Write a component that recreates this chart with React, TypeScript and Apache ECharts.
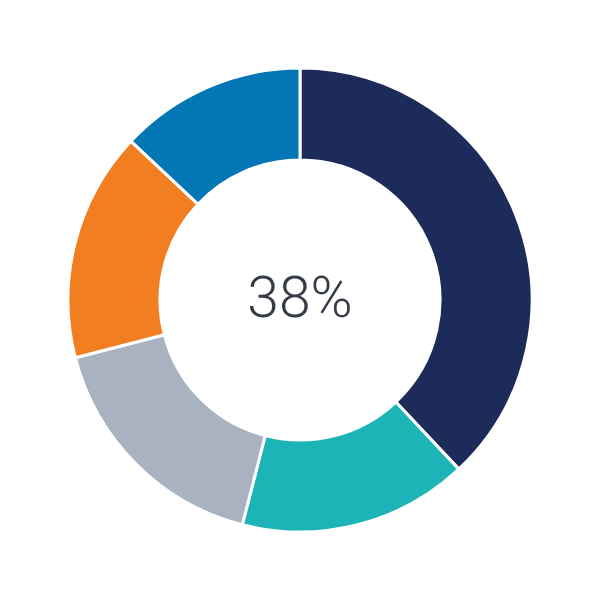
import React, { useEffect, useRef } from 'react';
import * as echarts from 'echarts';

// Slice shares, clockwise from 12 o'clock
const segmentNames = ['A', 'B', 'C', 'D', 'E'];
const segmentValues = [38, 16, 17, 16, 13];
const segmentColors = ['#1c2b5a', '#1cb4b6', '#a9b2c0', '#f17f22', '#0377b4'];
const centerLabel = '38%';

const App: React.FC = () => {
  const chartRef = useRef<HTMLDivElement>(null);

  useEffect(() => {
    if (!chartRef.current) return;
    const chart = echarts.init(chartRef.current, undefined, { renderer: 'svg' });

    const option = {
      animation: false,
      backgroundColor: '#fff',
      graphic: [
        {
          type: 'text',
          x: 292,
          y: 289,
          style: {
            text: centerLabel,
            fontSize: 57,
            fontFamily: 'Roboto',
            fontWeight: 300,
            fill: '#363c45',
            textAlign: 'center',
            textVerticalAlign: 'middle'
          }
        }
      ],
      series: [
        {
          type: 'pie',
          center: [292, 292],
          radius: [140, 232],
          startAngle: 90,
          clockwise: true,
          label: { show: false },
          labelLine: { show: false },
          itemStyle: { borderColor: '#fff', borderWidth: 3 },
          emphasis: { disabled: true },
          data: segmentNames.map((name, i) => ({
            name,
            value: segmentValues[i],
            itemStyle: { color: segmentColors[i] }
          }))
        }
      ]
    };

    chart.setOption(option);
    return () => chart.dispose();
  }, []);

  return <div ref={chartRef} style={{ width: '584px', height: '584px' }} />;
};

export default App;
